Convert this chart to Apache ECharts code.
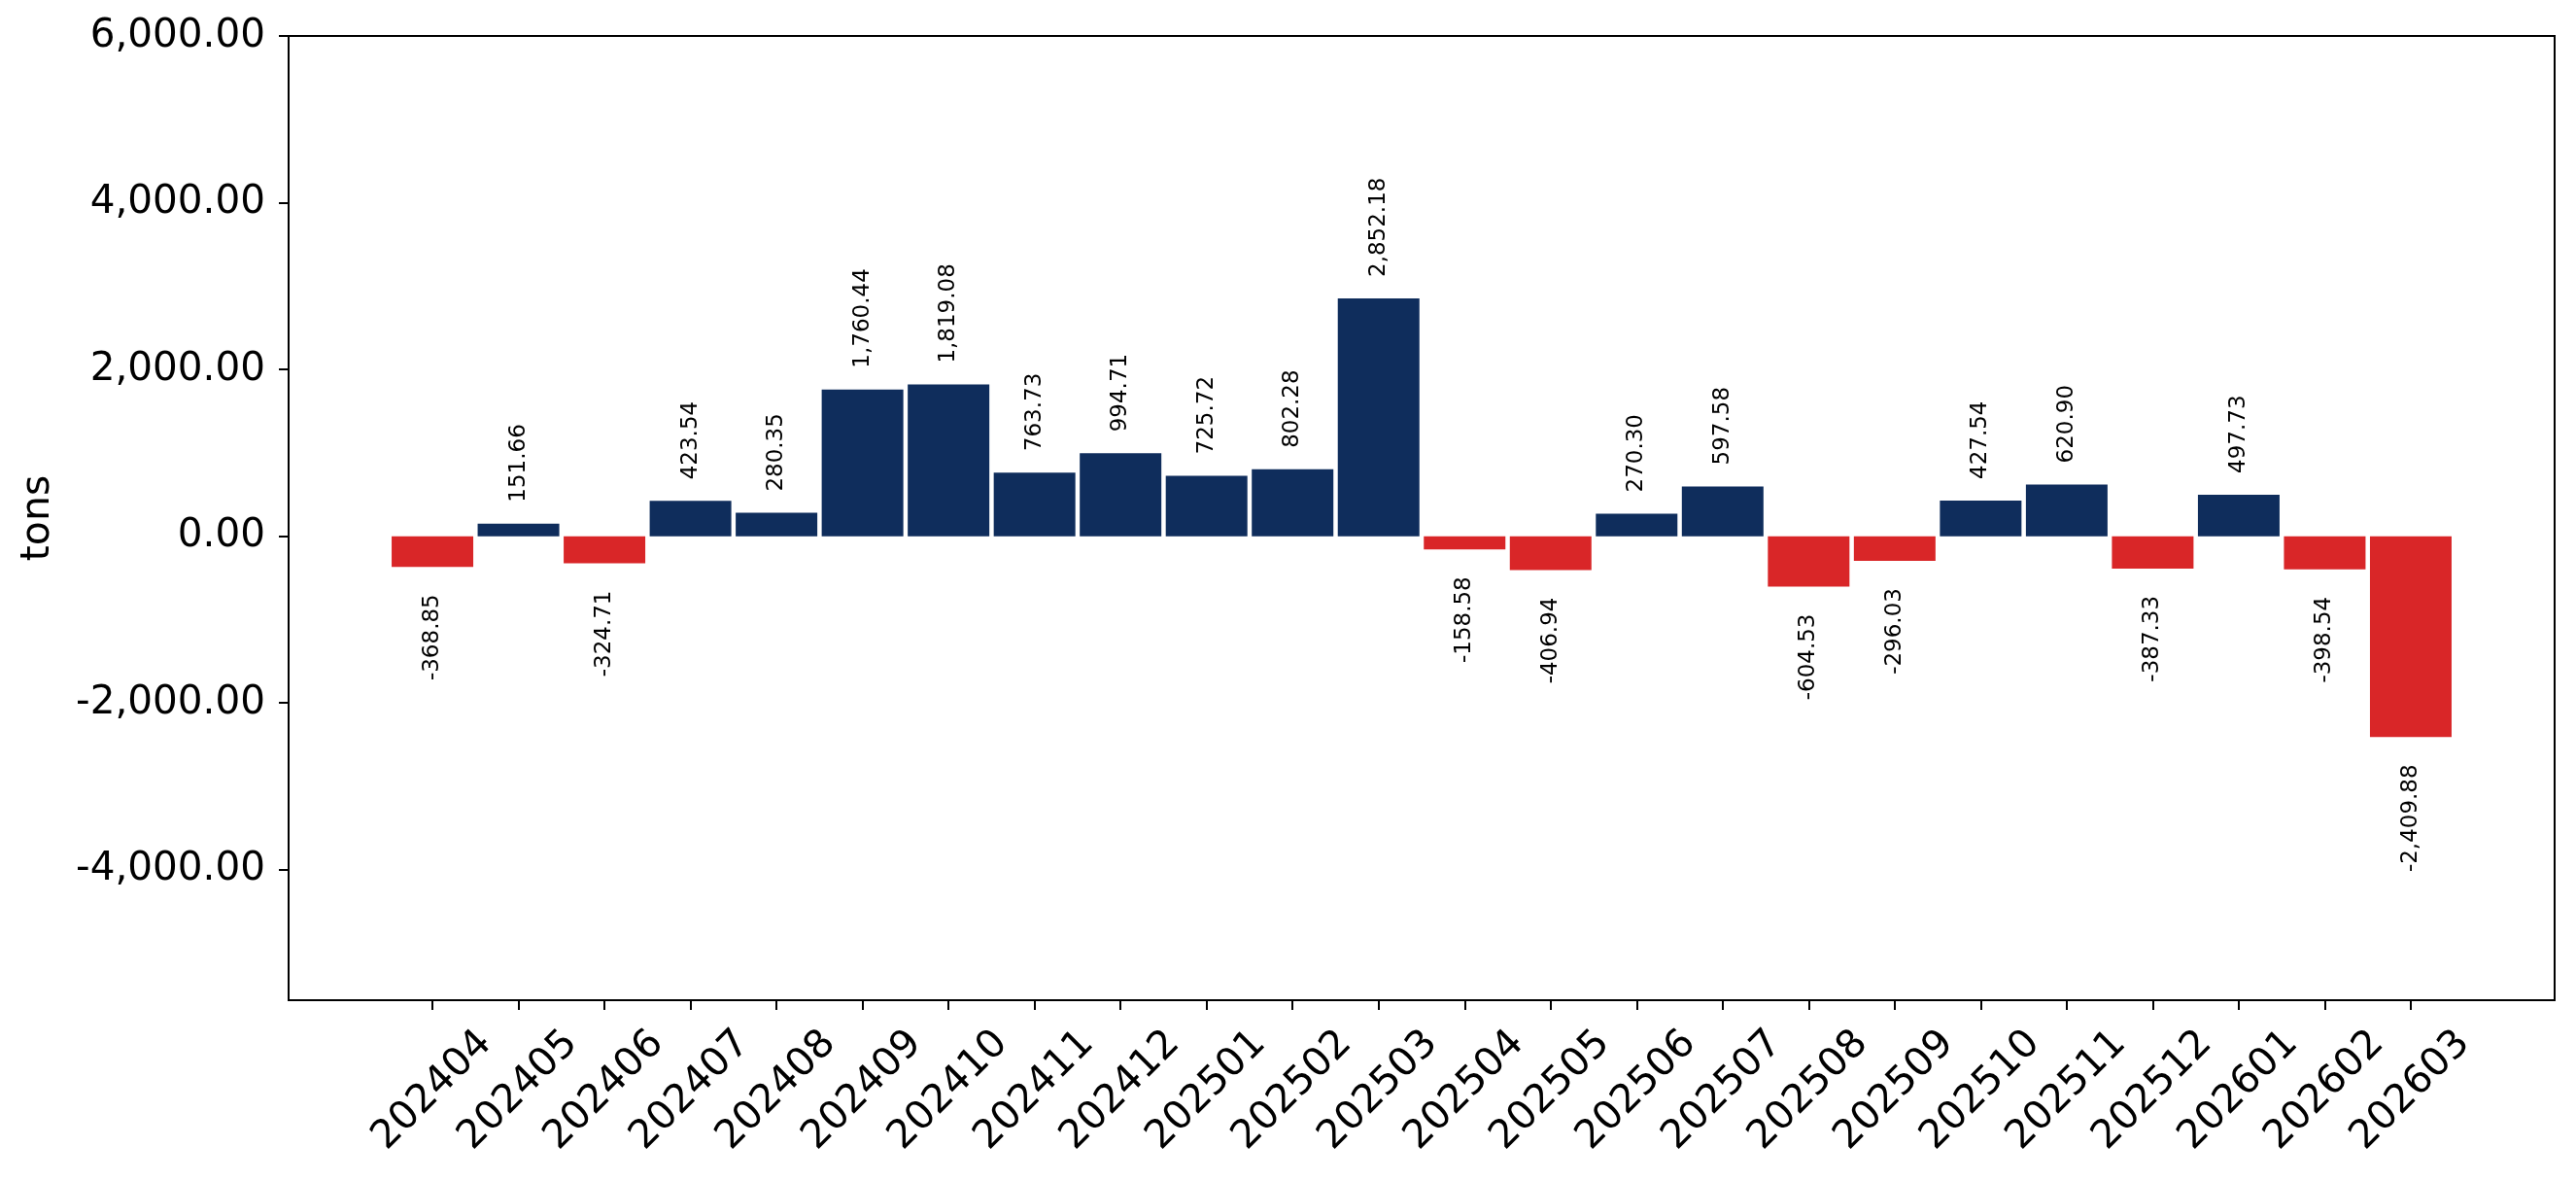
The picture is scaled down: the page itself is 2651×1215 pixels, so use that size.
<!DOCTYPE html>
<html>
<head>
<meta charset="utf-8">
<script src="https://cdn.jsdelivr.net/npm/echarts@6/dist/echarts.min.js"></script>
<style>
  html, body { margin: 0; padding: 0; background: #fff; }
  #chart { width: 2651px; height: 1215px; }
</style>
</head>
<body>
<div id="chart"></div>
<script>
// months on the x axis
const months = ['202404', '202405', '202406', '202407', '202408', '202409', '202410', '202411',
  '202412', '202501', '202502', '202503', '202504', '202505', '202506', '202507', '202508',
  '202509', '202510', '202511', '202512', '202601', '202602', '202603'];
// monthly change, tons
const values = [-368.85, 151.66, -324.71, 423.54, 280.35, 1760.44, 1819.08, 763.73,
  994.71, 725.72, 802.28, 2852.18, -158.58, -406.94, 270.30, 597.58, -604.53,
  -296.03, 427.54, 620.90, -387.33, 497.73, -398.54, -2409.88];
// y tick labels
const yTicks = [-4000, -2000, 0, 2000, 4000, 6000];

const POS = '#0F2D5C', NEG = '#D92628';
const FONT = 'DejaVu Sans';
const fmt = v => v.toLocaleString('en-US', { minimumFractionDigits: 2, maximumFractionDigits: 2 });

// positive bars navy with label above, negative bars red with label below
const barData = values.map((v, i) => ({
  value: [i, v],
  itemStyle: { color: v >= 0 ? POS : NEG },
  label: v >= 0
    ? { position: 'top', align: 'left', distance: 22 }
    : { position: 'bottom', align: 'right', distance: 28 }
}));

const chart = echarts.init(document.getElementById('chart'));
chart.setOption({
  animation: false,
  backgroundColor: '#fff',
  textStyle: { fontFamily: FONT },
  grid: {
    left: 297, right: 22, top: 37, bottom: 186,
    show: true, borderColor: '#000', borderWidth: 2, backgroundColor: 'transparent'
  },
  xAxis: {
    type: 'value',
    min: -1.6725,
    max: 24.6725,
    splitLine: { show: false },
    axisLine: { onZero: false, lineStyle: { color: '#000', width: 2 } },
    axisTick: { show: true, length: 10, lineStyle: { color: '#000', width: 2 }, customValues: months.map((m, i) => i) },
    axisLabel: {
      customValues: months.map((m, i) => i),
      formatter: v => months[v] || '',
      rotate: 45,
      align: 'center',
      verticalAlign: 'middle',
      margin: 93,
      fontSize: 40.5,
      color: '#000',
      fontFamily: FONT
    }
  },
  yAxis: {
    type: 'value',
    min: -5565,
    max: 6000,
    name: 'tons',
    nameLocation: 'middle',
    nameRotate: 90,
    nameGap: 237,
    nameTextStyle: { fontSize: 41, color: '#000', fontFamily: FONT },
    splitLine: { show: false },
    axisLine: { show: true, onZero: false, lineStyle: { color: '#000', width: 2 } },
    axisTick: { show: true, length: 10, lineStyle: { color: '#000', width: 2 }, customValues: yTicks },
    axisLabel: {
      customValues: yTicks,
      formatter: v => fmt(v),
      margin: 24,
      fontSize: 40.5,
      color: '#000',
      fontFamily: FONT
    }
  },
  series: [{
    type: 'bar',
    barWidth: 84,
    data: barData,
    label: {
      show: true,
      rotate: 90,
      verticalAlign: 'middle',
      fontSize: 23,
      color: '#000',
      fontFamily: FONT,
      formatter: p => fmt(p.value[1])
    }
  }]
});
</script>
</body>
</html>
